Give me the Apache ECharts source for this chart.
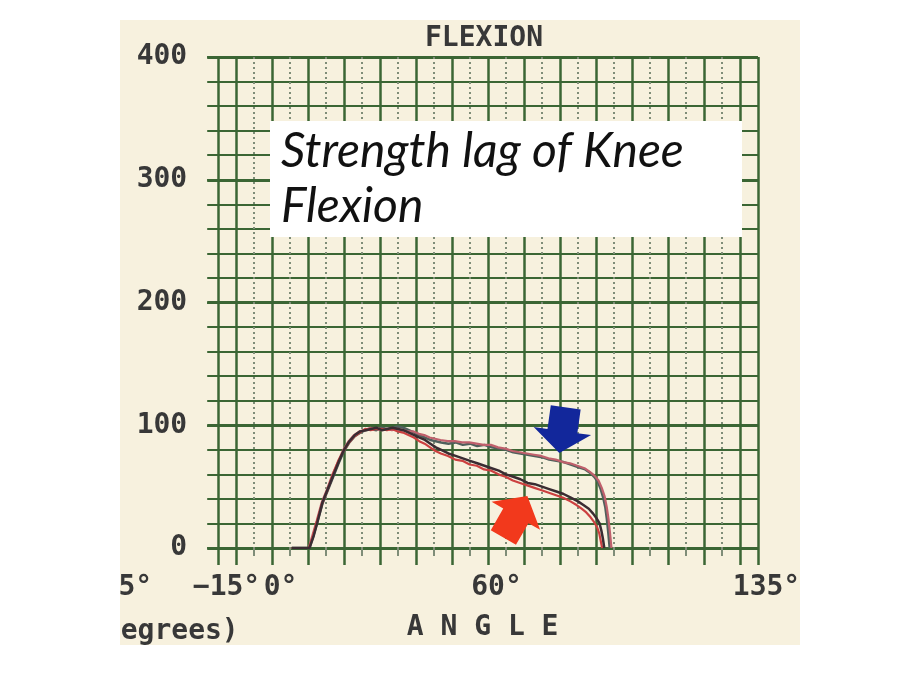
<!DOCTYPE html>
<html>
<head>
<meta charset="utf-8">
<script src="https://cdn.jsdelivr.net/npm/echarts/dist/echarts.min.js"></script>
<style>
  html, body { margin: 0; padding: 0; background: #ffffff; }
  #chart { width: 900px; height: 675px; }
</style>
</head>
<body>
<div id="chart"></div>
<script>
// ---------- data ----------
const solidGridAngles = [-15, -10, 0, 10, 20, 30, 40, 50, 60, 70, 80, 90, 100, 110, 120, 130, 135];
const dottedGridAngles = [-5, 5, 15, 25, 35, 45, 55, 65, 75, 85, 95, 105, 115, 125];
const labelAngles = [-45, -15, 0, 60, 135];

const upperDarkAngle = [5.5, 10.4, 11.5, 12.5, 14, 15.5, 17, 18.5, 20, 21.5, 23, 24.5, 26, 27.5, 29, 30.5, 32, 33.5, 35, 36.5, 38, 39.5, 41, 42.5, 44, 45.5, 47, 49, 51, 53, 55, 57, 59, 61, 63, 65, 67, 69, 71, 73, 75, 77, 79, 81, 83, 85, 87, 88.5, 89.5, 90.5, 91.3, 92, 92.6, 93, 93.4, 93.8];
const upperDarkTorque = [0, 0, 10, 20, 36, 47, 58, 69, 79, 86, 91, 94, 96, 97, 96, 98, 97, 98, 99, 98, 96, 94, 92, 90, 88, 87, 86, 85, 86, 84, 85, 83, 84, 82, 81, 80, 78, 77, 76, 75, 74, 72, 71, 70, 68, 66, 64, 61, 58, 54, 48, 41, 33, 24, 13, 0];

const upperRedAngle = [5.5, 10.2, 11.3, 12.4, 13.8, 15.3, 16.8, 18.3, 19.8, 21.3, 22.8, 24.3, 25.8, 27.3, 28.8, 30.3, 31.8, 33.3, 34.8, 36.3, 37.8, 39.3, 40.8, 42.3, 43.8, 45.3, 46.8, 48.8, 50.8, 52.8, 54.8, 56.8, 58.8, 60.8, 62.8, 64.8, 66.8, 68.8, 70.8, 72.8, 74.8, 76.8, 78.8, 80.8, 82.8, 84.8, 86.8, 88.3, 89.6, 90.7, 91.6, 92.4, 93.0, 93.5, 93.9, 94.3];
const upperRedTorque = [0, 0, 11, 22, 37, 48, 60, 70, 80, 87, 92, 95, 96, 98, 97, 96, 97, 96, 97, 96, 95, 95, 93, 92, 90, 89, 88, 87, 87, 86, 86, 85, 84, 84, 82, 81, 79, 78, 77, 76, 75, 73, 72, 70, 69, 67, 65, 62, 59, 55, 49, 42, 33, 23, 12, 0];

const lowerDarkAngle = [5.5, 10.4, 11.5, 12.6, 14, 15.5, 17, 18.5, 20, 21.5, 23, 24.5, 26, 27.5, 29, 30.5, 32, 33.5, 35, 36.5, 38, 39.5, 41, 42.5, 44, 45.5, 47, 49, 51, 53, 55, 57, 59, 61, 63, 65, 67, 69, 71, 73, 75, 77, 79, 81, 83, 85, 86.5, 88, 89.2, 90.2, 91, 91.5, 91.9, 92.3];
const lowerDarkTorque = [0, 0, 9, 21, 37, 48, 59, 70, 80, 87, 92, 95, 96, 97, 98, 96, 97, 98, 97, 96, 94, 92, 90, 88, 85, 82, 80, 77, 75, 73, 71, 69, 67, 65, 63, 60, 58, 56, 53, 52, 50, 48, 46, 44, 41, 38, 35, 32, 28, 24, 20, 14, 8, 0];

const lowerRedAngle = [5.5, 10.3, 11.4, 12.5, 13.9, 15.4, 16.9, 18.4, 19.9, 21.4, 22.9, 24.4, 25.9, 27.4, 28.9, 30.4, 31.9, 33.4, 34.9, 36.4, 37.9, 39.4, 40.9, 42.4, 43.9, 45.4, 46.9, 48.9, 50.9, 52.9, 54.9, 56.9, 58.9, 60.9, 62.9, 64.9, 66.9, 68.9, 70.9, 72.9, 74.9, 76.9, 78.9, 80.9, 82.9, 84.6, 86, 87.3, 88.5, 89.5, 90.3, 90.9, 91.3, 91.7];
const lowerRedTorque = [0, 0, 10, 22, 36, 47, 60, 71, 79, 86, 91, 94, 97, 96, 97, 97, 96, 97, 95, 94, 92, 90, 87, 85, 82, 79, 77, 75, 72, 71, 68, 67, 64, 63, 60, 58, 55, 53, 51, 49, 47, 45, 43, 41, 38, 35, 32, 29, 25, 21, 17, 12, 6, 0];

// arrow annotations: anchor [angle, torque]
const blueArrowAt = [80.7, 96];
const redArrowAt = [67.6, 25.5];

// ---------- helpers ----------
function zip(a, b) { return a.map((v, i) => [v, b[i]]); }

const GREEN = '#3b6634';
const DOT = '#7f8d78';
const INK = '#383838';
const MONO = '"DejaVu Sans Mono", "Liberation Mono", monospace';

// layout (pixels)
const plotRight = 758;
const pxPerDeg = 3.6;
const xMinA = -18, xMinB = -45, xMax = 135;
const gridALeft = plotRight - (xMax - xMinA) * pxPerDeg;
const gridBLeft = plotRight - (xMax - xMinB) * pxPerDeg;
const gridTop = 57, gridBottom = 675 - 548, gridRight = 900 - plotRight;

const arrowPath = 'path://M50,0 L100,48 L76,48 L76,100 L24,100 L24,48 L0,48 Z';

const chart = echarts.init(document.getElementById('chart'), null, { renderer: 'canvas' });

const option = {
  backgroundColor: '#ffffff',
  animation: false,
  title: {
    text: 'FLEXION',
    left: 420,
    top: 20,
    textStyle: { fontFamily: MONO, fontSize: 28, fontWeight: 'bold', color: INK }
  },
  grid: [
    { left: gridALeft, right: gridRight, top: gridTop, bottom: gridBottom, containLabel: false },
    { left: gridBLeft, right: gridRight, top: gridTop, bottom: gridBottom, containLabel: false }
  ],
  xAxis: [
    {
      type: 'value', gridIndex: 0, min: xMinA, max: xMax, position: 'bottom',
      axisLine: { show: false },
      axisTick: { show: true, customValues: solidGridAngles, length: 17, lineStyle: { color: GREEN, width: 2.5 } },
      axisLabel: { show: false },
      splitLine: { show: true, lineStyle: { color: GREEN, width: 2.5 } },
      name: 'A N G L E',
      nameLocation: 'middle',
      nameGap: 66,
      nameTextStyle: { fontFamily: MONO, fontSize: 28, fontWeight: 'bold', color: INK, lineHeight: 28 }
    },
    {
      type: 'value', gridIndex: 0, min: xMinA, max: xMax, position: 'bottom',
      axisLine: { show: false },
      axisTick: { show: true, customValues: dottedGridAngles, length: 8, lineStyle: { color: DOT, width: 2 } },
      axisLabel: { show: false },
      splitLine: { show: true, lineStyle: { color: DOT, width: 2, type: [2, 3] } }
    },
    {
      type: 'value', gridIndex: 1, min: xMinB, max: xMax, position: 'bottom',
      axisLine: { show: false },
      axisTick: { show: false },
      splitLine: { show: false },
      axisLabel: {
        show: true,
        customValues: labelAngles,
        formatter: v => (v < 0 ? '\u2212' + Math.abs(v) : String(v)) + '\u00B0',
        fontFamily: MONO, fontSize: 28, fontWeight: 'bold', color: INK,
        lineHeight: 28, margin: 26, padding: [0, 0, 0, 17]
      }
    }
  ],
  yAxis: [
    {
      type: 'value', gridIndex: 0, min: 0, max: 400, interval: 20, position: 'left',
      axisLine: { show: false }, axisTick: { show: false }, axisLabel: { show: false },
      splitLine: { show: true, lineStyle: { color: GREEN, width: 2 } }
    },
    {
      type: 'value', gridIndex: 0, min: 0, max: 400, interval: 100, position: 'left', offset: 0,
      axisLine: { show: false }, axisTick: { show: false },
      axisLabel: { show: true, margin: 20, padding: [8, 0, 0, 0], fontFamily: MONO, fontSize: 28, fontWeight: 'bold', color: INK },
      splitLine: { show: true, lineStyle: { color: GREEN, width: 3 } }
    },
    { type: 'value', gridIndex: 1, min: 0, max: 400, show: false }
  ],
  series: [
    {
      name: 'upperDark', type: 'line', xAxisIndex: 0, yAxisIndex: 0, z: 5,
      data: zip(upperDarkAngle, upperDarkTorque), showSymbol: false, symbol: 'none',
      lineStyle: { color: '#4f605c', width: 2.5 }
    },
    {
      name: 'upperRed', type: 'line', xAxisIndex: 0, yAxisIndex: 0, z: 5,
      data: zip(upperRedAngle, upperRedTorque), showSymbol: false, symbol: 'none',
      lineStyle: { color: '#c0606c', width: 2.2 }
    },
    {
      name: 'lowerRed', type: 'line', xAxisIndex: 0, yAxisIndex: 0, z: 5,
      data: zip(lowerRedAngle, lowerRedTorque), showSymbol: false, symbol: 'none',
      lineStyle: { color: '#cc4040', width: 2.2 }
    },
    {
      name: 'lowerDark', type: 'line', xAxisIndex: 0, yAxisIndex: 0, z: 6,
      data: zip(lowerDarkAngle, lowerDarkTorque), showSymbol: false, symbol: 'none',
      lineStyle: { color: '#3a2c32', width: 2.5 },
      markPoint: {
        silent: true,
        label: { show: false },
        data: [
          { coord: blueArrowAt, symbol: arrowPath, symbolSize: [58, 46], symbolRotate: 172, itemStyle: { color: '#12279b' } },
          { coord: redArrowAt, symbol: arrowPath, symbolSize: [56, 48], symbolRotate: -30, itemStyle: { color: '#f2391c' } }
        ]
      }
    },
    { type: 'line', xAxisIndex: 2, yAxisIndex: 2, data: [] }
  ],
  graphic: [
    { type: 'rect', z: -1, silent: true, shape: { x: 120, y: 20, width: 680, height: 625 }, style: { fill: '#f7f1de' } },
    { type: 'text', z: 10, silent: true, x: 87, y: 618,
      style: { text: '(degrees)', font: 'bold 28px "DejaVu Sans Mono"', fill: INK, textVerticalAlign: 'top' } },
    { type: 'rect', z: 100, silent: true, shape: { x: 0, y: 0, width: 120, height: 675 }, style: { fill: '#ffffff' } },
    { type: 'rect', z: 100, silent: true, shape: { x: 270, y: 121, width: 472, height: 116 }, style: { fill: '#ffffff' } },
    { type: 'text', z: 101, silent: true, x: 281, y: 124,
      style: { text: 'Strength lag of Knee\nFlexion', font: 'italic 48px Lato', lineHeight: 55, fill: '#111111', textVerticalAlign: 'top' } }
  ]
};

chart.setOption(option);
</script>
</body>
</html>
